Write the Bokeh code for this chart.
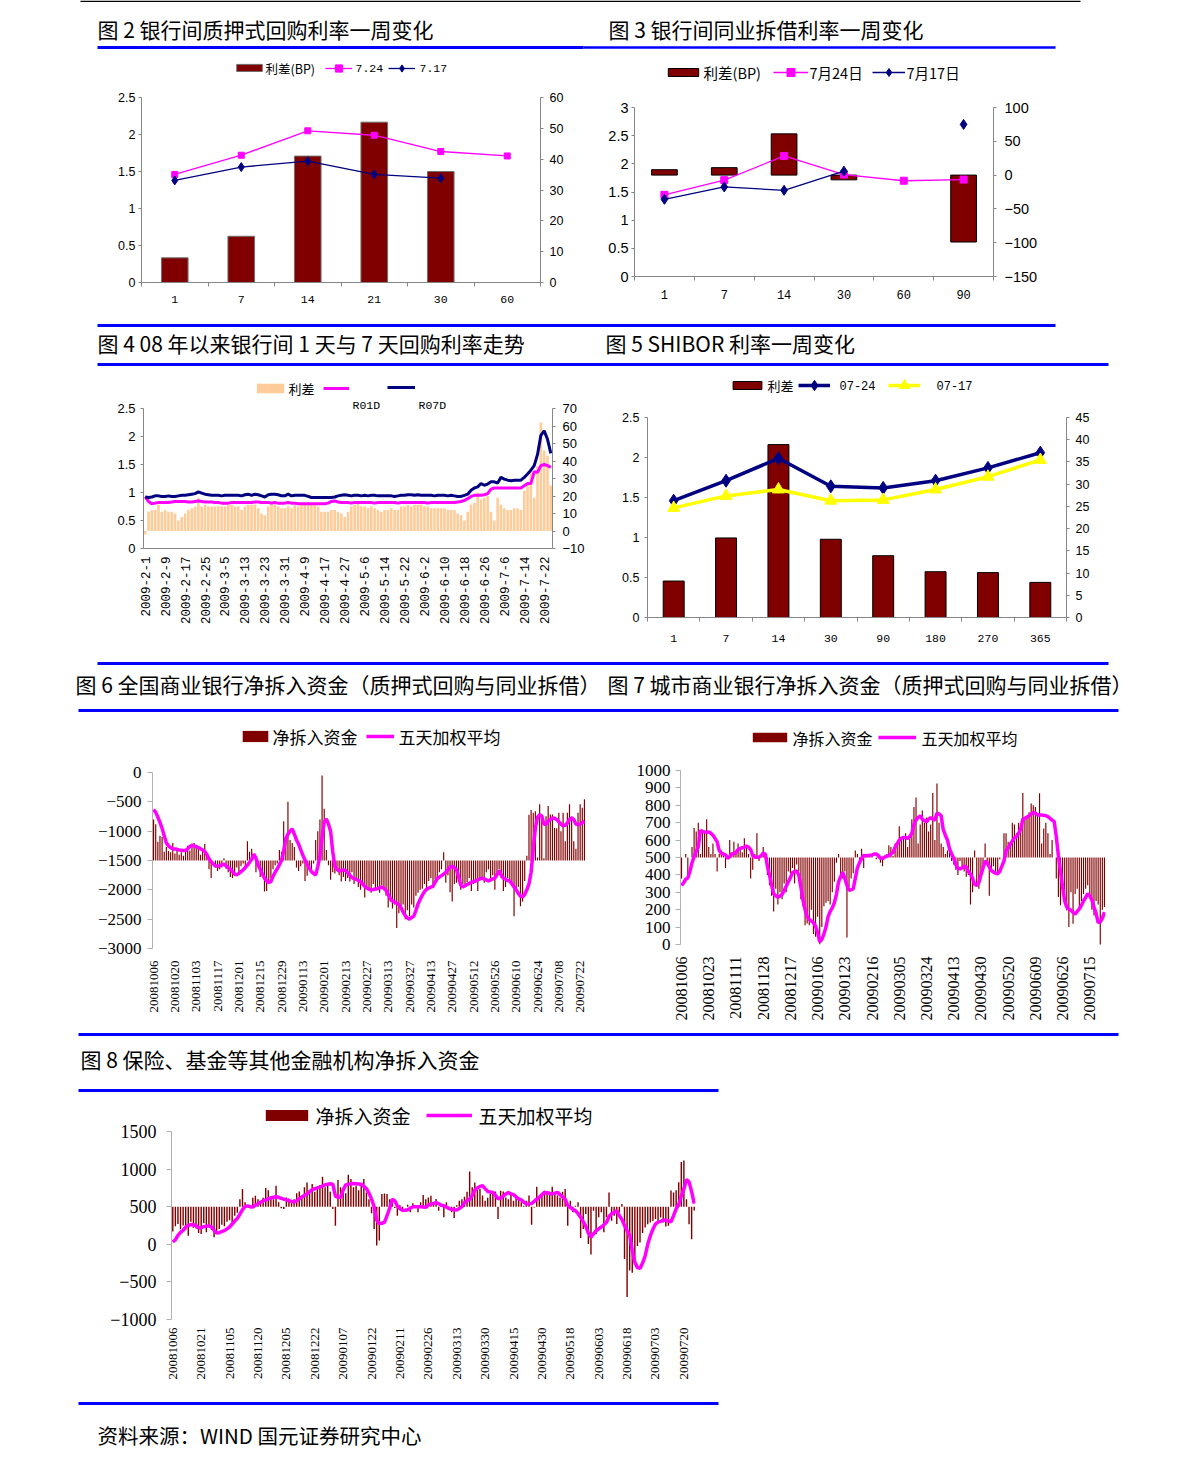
import math
from bokeh.plotting import figure
from bokeh.layouts import column, row
from bokeh.models import (Range1d, LinearAxis, FixedTicker, Legend, LegendItem, Label,
                          Spacer, NumeralTickFormatter)
from bokeh.embed import file_html
from bokeh.resources import INLINE

NAN = float("nan")

# ---------------- data ----------------
# Fig.2 interbank pledged repo, one-week change
repo_terms = ["1", "7", "14", "21", "30", "60"]
repo_0724 = [1.46, 1.72, 2.05, 1.99, 1.77, 1.71]
repo_0717 = [1.38, 1.56, 1.64, 1.46, 1.41, NAN]
repo_spread_bp = [8, 15, 41, 52, 36, NAN]

# Fig.3 interbank lending, one-week change
ibo_terms = ["1", "7", "14", "30", "60", "90"]
ibo_0724 = [1.45, 1.71, 2.14, 1.81, 1.70, 1.72]
ibo_0717 = [1.37, 1.59, 1.53, 1.87, NAN, 2.70]
ibo_spread_bp = [8, 11, 61, -7, NAN, -99]

# Fig.4 R01D / R07D daily since Feb 2009
r_dates = ["2009-2-1", "2009-2-9", "2009-2-17", "2009-2-25", "2009-3-5", "2009-3-13",
           "2009-3-23", "2009-3-31", "2009-4-9", "2009-4-17", "2009-4-27", "2009-5-6",
           "2009-5-14", "2009-5-22", "2009-6-2", "2009-6-10", "2009-6-18", "2009-6-26",
           "2009-7-6", "2009-7-14", "2009-7-22"]
r07d = [0.92, 0.91, 0.92, 0.94, 0.94, 0.93,
        0.93, 0.94, 0.93, 0.93, 0.94, 0.95,
        0.95, 0.96, 0.97, 0.98, 1.01, 0.99,
        0.97, 0.96, 0.95, 0.95, 0.95, 0.94,
        0.95, 0.95, 0.95, 0.95, 0.95, 0.94,
        0.96, 0.97, 0.95, 0.97, 0.96, 0.94,
        0.92, 0.96, 0.97, 0.97, 0.96, 0.94,
        0.94, 0.97, 0.94, 0.95, 0.95, 0.95,
        0.95, 0.93, 0.91, 0.91, 0.91, 0.91,
        0.91, 0.91, 0.91, 0.92, 0.94, 0.95,
        0.96, 0.95, 0.94, 0.95, 0.95, 0.94,
        0.95, 0.94, 0.95, 0.95, 0.94, 0.94,
        0.94, 0.94, 0.94, 0.93, 0.94, 0.95,
        0.95, 0.96, 0.96, 0.95, 0.96, 0.95,
        0.95, 0.95, 0.95, 0.94, 0.95, 0.95,
        0.95, 0.94, 0.95, 0.94, 0.93, 0.93,
        0.95, 0.97, 1.04, 1.08, 1.10, 1.16,
        1.13, 1.15, 1.19, 1.19, 1.17, 1.27,
        1.24, 1.22, 1.21, 1.22, 1.22, 1.22,
        1.27, 1.33, 1.40, 1.48, 1.68, 2.02,
        2.10, 1.95, 1.70]
r01d = [0.92, 0.84, 0.80, 0.81, 0.82, 0.82,
        0.82, 0.82, 0.83, 0.84, 0.84, 0.84,
        0.84, 0.83, 0.83, 0.84, 0.85, 0.84,
        0.83, 0.83, 0.83, 0.82, 0.82, 0.81,
        0.81, 0.81, 0.82, 0.82, 0.82, 0.82,
        0.82, 0.82, 0.82, 0.83, 0.83, 0.82,
        0.82, 0.82, 0.81, 0.82, 0.81, 0.81,
        0.81, 0.82, 0.81, 0.81, 0.80, 0.80,
        0.80, 0.80, 0.80, 0.80, 0.80, 0.80,
        0.80, 0.81, 0.84, 0.85, 0.83, 0.82,
        0.82, 0.82, 0.81, 0.82, 0.82, 0.82,
        0.82, 0.82, 0.82, 0.81, 0.82, 0.82,
        0.82, 0.82, 0.82, 0.82, 0.81, 0.82,
        0.82, 0.82, 0.82, 0.82, 0.82, 0.82,
        0.82, 0.81, 0.82, 0.82, 0.82, 0.82,
        0.82, 0.82, 0.82, 0.82, 0.83, 0.84,
        0.86, 0.89, 0.93, 0.95, 0.95, 0.95,
        0.96, 0.98, 1.06, 1.08, 1.08, 1.08,
        1.08, 1.08, 1.08, 1.08, 1.08, 1.08,
        1.12, 1.16, 1.16, 1.37, 1.36, 1.48,
        1.50, 1.48, 1.45]
r_spread_bp = [-2, 11, 12, 12, 15, 11,
               12, 11, 11, 10, 6, 8,
               10, 12, 13, 14, 19, 14,
               15, 14, 14, 14, 14, 14,
               14, 15, 15, 14, 14, 12,
               14, 15, 15, 15, 13, 10,
               9, 14, 16, 15, 14, 13,
               13, 14, 13, 15, 14, 16,
               16, 16, 16, 15, 14, 11,
               11, 11, 12, 12, 11, 10,
               8, 11, 14, 15, 16, 14,
               14, 13, 14, 13, 12, 11,
               12, 12, 13, 12, 12, 14,
               14, 15, 14, 15, 15, 15,
               14, 14, 13, 13, 13, 13,
               13, 12, 12, 12, 10, 9,
               6, 11, 15, 16, 22, 18,
               19, 20, 11, 6, 19, 15,
               13, 12, 12, 13, 13, 12,
               23, 27, 34, 19, 37, 62,
               46, 43, 26]

# Fig.5 SHIBOR one-week change
shibor_terms = ["1", "7", "14", "30", "90", "180", "270", "365"]
shibor_0724 = [1.46, 1.71, 1.99, 1.64, 1.62, 1.71, 1.87, 2.06]
shibor_0717 = [1.37, 1.52, 1.60, 1.46, 1.47, 1.60, 1.76, 1.97]
shibor_spread_bp = [8.2, 17.9, 38.9, 17.6, 13.9, 10.3, 10.1, 7.9]

# Fig.6 all commercial banks: net borrowing (daily) and 5-day weighted mean
all_dates = ["20081006", "20081020", "20081103", "20081117", "20081201", "20081215",
             "20081229", "20090113", "20090201", "20090213", "20090227", "20090313",
             "20090327", "20090413", "20090427", "20090512", "20090526", "20090610",
             "20090624", "20090708", "20090722"]
all_net = [-800, -880, -1180, -1080, -1100, -1350, -1270, -1340, -1360, -1200,
           -1380, -1300, -1400, -1360, -1420, -1300, -1250, -1330, -1260, -1200,
           -1280, -1300, -1400, -1350, -1220, -1380, -1650, -1800, -1500, -1620,
           -1680, -1650, -1620, -1460, -1640, -1700, -1780, -1800, -1760, -1620,
           -1700, -1600, -1550, -1650, -1170, -1350, -1300, -1500, -1700, -1550,
           -1780, -1700, -2030, -2020, -1900, -1800, -1650, -1580, -1550, -1320,
           -1350, -830, -1100, -500, -1150, -1200, -1270, -1620, -1680, -1600,
           -1550, -1850, -1760, -1600, -1700, -1550, -1150, -1000, -800, -50,
           -620, -1320, -1580, -1830, -1700, -1720, -1680, -1750, -1860, -1780,
           -1850, -1800, -1860, -1700, -1900, -1820, -1950, -2000, -1880, -2130,
           -1950, -2000, -2050, -1900, -2000, -1950, -2050, -1920, -2000, -2100,
           -2300, -2200, -2320, -2250, -2650, -2400, -2300, -2250, -2500, -2350,
           -2450, -2250, -2300, -2100, -2050, -2000, -1980, -1900, -2020, -1850,
           -1800, -1950, -1820, -1780, -1700, -1650, -1360, -1880, -1750, -2040,
           -2200, -1900, -1880, -1850, -2000, -1900, -1950, -1870, -1800, -2020,
           -1900, -1850, -2020, -1800, -1820, -1880, -1700, -1650, -1800, -1750,
           -2000, -1750, -1650, -1800, -2020, -1950, -1800, -1850, -1900, -2450,
           -2000, -1950, -2280, -2200, -1850, -1420, -720, -640, -686, -660,
           -1450, -543, -720, -1460, -744, -572, -715, -715, -944, -950,
           -686, -1000, -686, -1173, -686, -543, -750, -1173, -1300, -686,
           -543, -600, -457]
all_avg5 = [-630, -680, -760, -850, -950, -1080, -1200, -1250, -1280, -1300,
            -1305, -1310, -1320, -1325, -1330, -1330, -1300, -1260, -1240, -1250,
            -1265, -1280, -1300, -1320, -1345, -1400, -1470, -1520, -1560, -1590,
            -1600, -1590, -1575, -1560, -1590, -1620, -1650, -1690, -1730, -1745,
            -1720, -1690, -1660, -1620, -1580, -1530, -1480, -1390, -1460, -1580,
            -1650, -1730, -1800, -1850, -1875, -1860, -1770, -1700, -1640, -1570,
            -1500, -1330, -1130, -1050, -1000, -960, -1050, -1150, -1220, -1320,
            -1410, -1490, -1570, -1630, -1690, -1720, -1750, -1600, -1420, -1100,
            -850, -790, -880, -1000, -1350, -1600, -1650, -1680, -1670, -1660,
            -1670, -1710, -1750, -1790, -1810, -1820, -1840, -1860, -1900, -1940,
            -1970, -1990, -2000, -1995, -1985, -1980, -1965, -1950, -1975, -2010,
            -2080, -2150, -2190, -2210, -2230, -2250, -2300, -2380, -2440, -2480,
            -2500, -2470, -2450, -2350, -2240, -2160, -2090, -2030, -1990, -1970,
            -1955, -1940, -1870, -1810, -1780, -1760, -1730, -1700, -1660, -1610,
            -1600, -1620, -1650, -1780, -1920, -1950, -1930, -1910, -1890, -1870,
            -1860, -1850, -1830, -1815, -1800, -1815, -1830, -1850, -1830, -1815,
            -1800, -1740, -1670, -1750, -1800, -1820, -1840, -1850, -1900, -1950,
            -2000, -2060, -2110, -2120, -2080, -2000, -1900, -1700, -1300, -950,
            -760, -720, -740, -880, -880, -830, -800, -775, -780, -800,
            -840, -880, -910, -900, -860, -800, -775, -800, -880, -890,
            -880, -850, -830]

# Fig.7 city commercial banks
city_dates = ["20081006", "20081023", "20081111", "20081128", "20081217", "20090106",
              "20090123", "20090216", "20090305", "20090324", "20090413", "20090430",
              "20090520", "20090609", "20090626", "20090715"]
city_net = [380, 500, 520, 390, 500, 560, 670, 650, 700, 520,
            660, 650, 720, 560, 520, 580, 520, 420, 520, 540,
            530, 440, 510, 600, 520, 590, 520, 580, 560, 530,
            610, 560, 520, 380, 430, 520, 640, 480, 500, 560,
            520, 400, 340, 280, 190, 320, 230, 300, 260, 350,
            300, 420, 410, 440, 350, 460, 420, 260, 220, 110,
            120, 110, 200, 60, 45, 160, 0, 100, 220, 240,
            250, 230, 300, 360, 470, 520, 390, 380, 420, 40,
            330, 380, 410, 540, 520, 470, 550, 440, 510, 520,
            510, 520, 500, 490, 510, 470, 450, 500, 520, 570,
            560, 510, 580, 570, 680, 600, 610, 640, 560, 620,
            720, 790, 845, 580, 690, 770, 700, 730, 650, 690,
            870, 600, 925, 700, 580, 560, 520, 540, 560, 480,
            460, 430, 400, 480, 450, 420, 390, 400, 230, 300,
            540, 350, 320, 380, 460, 580, 480, 280, 440, 450,
            420, 400, 490, 500, 640, 640, 590, 580, 700, 690,
            640, 700, 690, 870, 720, 740, 760, 810, 800, 790,
            754, 869, 581, 667, 700, 640, 520, 600, 500, 379,
            273, 225, 321, 250, 196, 100, 300, 119, 290, 320,
            215, 250, 290, 320, 340, 290, 200, 167, 250, 230,
            -15, 200, 215]
city_avg5 = [339, 355, 375, 382, 420, 470, 505, 535, 560, 655,
             650, 646, 645, 646, 640, 628, 610, 590, 540, 525,
             520, 515, 495, 505, 521, 521, 530, 545, 552, 556,
             559, 566, 560, 545, 510, 502, 502, 502, 510, 525,
             520, 450, 400, 340, 292, 280, 272, 278, 288, 310,
             335, 360, 385, 412, 420, 422, 400, 330, 255, 200,
             160, 145, 135, 125, 105, 70, 15, 30, 60, 100,
             160, 190, 210, 240, 290, 360, 390, 415, 380, 340,
             312, 315, 320, 380, 440, 470, 495, 511, 510, 511,
             512, 515, 520, 520, 511, 495, 495, 502, 508, 511,
             520, 530, 560, 580, 600, 610, 615, 615, 610, 620,
             640, 690, 715, 730, 740, 720, 712, 705, 720, 730,
             720, 715, 755, 750, 741, 660, 628, 600, 550, 520,
             495, 460, 435, 435, 440, 450, 445, 420, 405, 380,
             345, 340, 355, 400, 440, 480, 470, 445, 425, 416,
             410, 406, 420, 450, 480, 540, 555, 575, 595, 612,
             620, 640, 665, 720, 725, 732, 740, 750, 760, 755,
             745, 744, 744, 742, 740, 735, 725, 715, 706, 620,
             510, 420, 330, 250, 215, 205, 196, 185, 175, 190,
             205, 225, 250, 270, 292, 280, 254, 215, 180, 125,
             130, 150, 186]

# Fig.8 insurers, funds and other institutions
oth_dates = ["20081006", "20081021", "20081105", "20081120", "20081205", "20081222",
             "20090107", "20090122", "20090211", "20090226", "20090313", "20090330",
             "20090415", "20090430", "20090518", "20090603", "20090618", "20090703",
             "20090720"]
oth_net = [170, 240, 270, 200, 250, 190, 115, 300, 220, 210,
           150, 137, 280, 160, 250, 190, 93, 160, 204, 260,
           240, 300, 320, 292, 380, 420, 600, 734, 560, 520,
           480, 620, 646, 600, 560, 620, 748, 720, 640, 600,
           778, 560, 480, 470, 624, 610, 560, 600, 680, 703,
           650, 760, 823, 720, 801, 700, 748, 790, 898, 760,
           801, 700, 469, 248, 854, 760, 721, 680, 924, 867,
           760, 780, 720, 778, 867, 690, 600, 412, 204, -17,
           49, 668, 677, 668, 600, 560, 482, 381, 520, 469,
           500, 527, 425, 545, 491, 425, 560, 655, 600, 624,
           646, 560, 602, 447, 520, 359, 558, 491, 425, 350,
           520, 580, 600, 633, 700, 968, 760, 823, 765, 734,
           650, 580, 620, 668, 690, 703, 336, 712, 703, 624,
           600, 668, 580, 620, 624, 560, 513, 580, 648, 261,
           491, 765, 624, 680, 712, 668, 700, 765, 690, 650,
           624, 700, 734, 248, 580, 425, 513, 560, 85, 204,
           403, 5, -136, 447, 137, 359, 425, 160, 359, 690,
           314, 381, 270, 425, 535, -194, -702, -349, -379, -245,
           -22, 23, 150, 223, 268, 290, 310, 335, 300, 357,
           290, 237, 246, 714, 690, 720, 826, 1093, 1115, 600,
           268, 67, 450]
oth_avg5 = [30, 60, 120, 160, 185, 230, 250, 262, 258, 250,
            215, 220, 235, 240, 247, 230, 185, 150, 155, 170,
            182, 205, 230, 270, 310, 345, 400, 460, 500, 512,
            500, 495, 520, 540, 560, 578, 590, 605, 615, 625,
            632, 625, 610, 600, 590, 582, 570, 560, 580, 605,
            630, 650, 668, 700, 725, 740, 750, 760, 775, 790,
            800, 805, 800, 640, 625, 625, 720, 790, 800, 805,
            809, 806, 803, 800, 770, 740, 680, 600, 500, 320,
            275, 280, 292, 380, 480, 600, 580, 510, 475, 450,
            452, 460, 480, 500, 500, 500, 500, 495, 492, 520,
            535, 545, 555, 540, 520, 512, 495, 475, 465, 460,
            456, 475, 500, 555, 580, 600, 650, 720, 750, 770,
            778, 740, 703, 695, 690, 650, 605, 615, 640, 670,
            690, 670, 660, 630, 605, 590, 560, 535, 538, 542,
            570, 600, 625, 660, 690, 685, 675, 670, 680, 690,
            660, 630, 600, 520, 490, 465, 445, 410, 360, 300,
            240, 150, 95, 140, 180, 205, 230, 260, 290, 370,
            405, 425, 447, 380, 330, 250, 180, 120, -80, -240,
            -310, -320, -250, -155, 0, 112, 200, 270, 295, 305,
            320, 322, 310, 300, 380, 470, 530, 640, 736, 860,
            830, 700, 540]

# ---------------- styling ----------------
CJK = "Noto Sans CJK SC"
SANS = "Liberation Sans"
MONO = "Liberation Mono"
SERIF = "Liberation Serif"
MAROON = "#800000"
MAGENTA = "#FF00FF"
NAVY = "#000080"
YELLOW = "#FFFF00"
PEACH = "#FFCC99"
BLUE = "#0000FF"
GREY = "#868686"
LGREY = "#B0B0B0"
PAGE_W = 1191


class Panel:
    """A chart whose plotting area is placed at fixed page pixels.

    axis_top is where the top axis value sits; the frame reaches up to ext_top so
    that the key above the plot area lives inside the frame."""

    def __init__(self, box, left, axis_top, right, bottom, ext_top):
        self.box = box
        self.fl, self.ft, self.fr, self.fb = left, axis_top, right, bottom
        self.ext = ext_top

    def vrange(self, v0, v1):
        span = (v1 - v0) * (self.fb - self.ext) / (self.fb - self.ft)
        return Range1d(v0, v0 + span)

    def figure(self, x_range, v0, v1):
        bx0, by0, bx1, by1 = self.box
        p = figure(width=bx1 - bx0, height=by1 - by0, x_range=x_range,
                   y_range=self.vrange(v0, v1), output_backend="svg", toolbar_location=None,
                   min_border_left=self.fl - bx0, min_border_right=bx1 - self.fr,
                   min_border_top=self.ext - by0, min_border_bottom=by1 - self.fb)
        p.outline_line_color = None
        p.grid.visible = False
        p.background_fill_color = "white"
        p.border_fill_color = "white"
        return p

    def key(self, p, renderers, x_left, y_center, gw, gh, area=False):
        """Legend glyph only, placed at page coordinates."""
        lx = x_left - (0.1 * gw if area else 0)
        leg = Legend(items=[LegendItem(label=" ", renderers=renderers)],
                     orientation="horizontal",
                     location=(lx - self.fl, self.fb - (y_center + gh / 2)),
                     glyph_width=int(round(gw)), glyph_height=int(round(gh)),
                     label_height=int(round(gh)), label_width=0, label_standoff=0,
                     padding=0, margin=0, spacing=0, border_line_color=None,
                     background_fill_alpha=0, label_text_font_size="1px")
        p.add_layout(leg)

    def text(self, p, text, x, y, font, size):
        p.add_layout(Label(x=x - self.fl, y=self.fb - y, x_units="screen", y_units="screen",
                           text=text, text_font=font, text_font_size=f"{size}px",
                           text_baseline="middle", text_align="left", text_color="black"))


def style_axis(ax, font, size, color=GREY, tick_out=3, standoff=3):
    ax.axis_line_color = color
    ax.major_tick_line_color = color
    ax.major_tick_out = tick_out
    ax.major_tick_in = 0
    ax.minor_tick_line_color = None
    ax.major_label_text_font = font
    ax.major_label_text_font_size = f"{size}px"
    ax.major_label_text_color = "black"
    ax.major_label_standoff = standoff


def category_x_axis(p, names, font, size, standoff):
    centers = [i + 0.5 for i in range(len(names))]
    ax = p.xaxis[0]
    ax.ticker = FixedTicker(ticks=centers, minor_ticks=list(range(len(names) + 1)))
    ax.major_label_overrides = {c: n for c, n in zip(centers, names)}
    style_axis(ax, font, size, tick_out=0, standoff=standoff)
    ax.major_tick_line_color = None
    ax.minor_tick_line_color = GREY
    ax.minor_tick_out = 4
    ax.minor_tick_in = 0
    return centers


def rate_axis(p, top, step, size, standoff):
    ax = p.yaxis[0]
    n = int(round(top / step))
    ax.ticker = FixedTicker(ticks=[round(i * step, 2) for i in range(n + 1)])
    ax.formatter = NumeralTickFormatter(format="0.[0]")
    ax.bounds = (0, top)
    style_axis(ax, SANS, size, standoff=standoff)


def right_axis(p, lo, hi, step, size, standoff):
    ax = LinearAxis(y_range_name="bp", bounds=(lo, hi),
                    ticker=FixedTicker(ticks=list(range(lo, hi + 1, step))))
    style_axis(ax, SANS, size, standoff=standoff)
    p.add_layout(ax, "right")


def date_x_axis(p, labels, step, font, size, standoff):
    ticks = [i * step for i in range(len(labels))]
    ax = p.xaxis[0]
    ax.ticker = FixedTicker(ticks=ticks)
    ax.major_label_overrides = {t: s for t, s in zip(ticks, labels)}
    ax.major_label_orientation = math.pi / 2
    style_axis(ax, font, size, tick_out=0, standoff=standoff)
    ax.major_tick_line_color = None
    return ax


def flow_y_axis(p, lo, hi, step, size, standoff):
    ax = p.yaxis[0]
    ax.ticker = FixedTicker(ticks=list(range(lo, hi + 1, step)))
    ax.bounds = (lo, hi)
    style_axis(ax, SERIF, size, color=LGREY, tick_out=5, standoff=standoff)


def decor(h):
    p = figure(width=PAGE_W, height=h, x_range=Range1d(0, PAGE_W), y_range=Range1d(h, 0),
               x_axis_type=None, y_axis_type=None, output_backend="svg",
               toolbar_location=None, min_border=0)
    p.outline_line_color = None
    p.grid.visible = False
    return p


def rule(p, x0, x1, y, color=BLUE, width=3):
    p.line([x0, x1], [y, y], line_color=color, line_width=width)


def heading(p, x, y, text, size=21, font=CJK):
    p.add_layout(Label(x=x, y=y, text=text, text_font=font, text_font_size=f"{size}px",
                       text_baseline="middle", text_align="left", text_color="black"))


# ---------------- Fig.2 ----------------
A2 = Panel((88, 52, 590, 318), 141, 97, 540, 282, 56)
p2 = A2.figure(Range1d(0, len(repo_terms)), 0, 2.5)
p2.extra_y_ranges = {"bp": A2.vrange(0, 60)}
x2 = category_x_axis(p2, repo_terms, MONO, 11.5, 9)
rate_axis(p2, 2.5, 0.5, 12.5, 3)
right_axis(p2, 0, 60, 10, 12.5, 6)
b2 = p2.vbar(x=x2, top=repo_spread_bp, bottom=0, width=0.4, y_range_name="bp",
             fill_color=MAROON, line_color="#707070", line_width=1)
l2a = p2.line(x2, repo_0724, line_color=MAGENTA, line_width=1.3)
m2a = p2.scatter(x2, repo_0724, marker="square", size=6, color=MAGENTA)
l2b = p2.line(x2, repo_0717, line_color=NAVY, line_width=1.3)
m2b = p2.scatter(x2, repo_0717, marker="diamond", size=9, color=NAVY)
A2.key(p2, [b2], 236, 68, 32.5, 8.75, area=True)
A2.key(p2, [l2a, m2a], 325, 68, 27, 17.5)
A2.key(p2, [l2b, m2b], 388, 68, 27, 17.5)
A2.text(p2, "利差(BP)", 265, 68, CJK, 12.5)
A2.text(p2, "7.24", 355, 68, MONO, 11.5)
A2.text(p2, "7.17", 419, 68, MONO, 11.5)

# ---------------- Fig.3 ----------------
A3 = Panel((590, 52, 1110, 318), 634, 107, 993, 276, 58)
p3 = A3.figure(Range1d(0, len(ibo_terms)), 0, 3)
p3.extra_y_ranges = {"bp": A3.vrange(-150, 100)}
x3 = category_x_axis(p3, ibo_terms, MONO, 12, 9)
rate_axis(p3, 3, 0.5, 14.5, 3)
right_axis(p3, -150, 100, 50, 14.5, 8)
b3 = p3.vbar(x=x3, top=ibo_spread_bp, bottom=0, width=0.43, y_range_name="bp",
             fill_color=MAROON, line_color="black", line_width=1)
l3a = p3.line(x3, ibo_0724, line_color=MAGENTA, line_width=1.3)
m3a = p3.scatter(x3, ibo_0724, marker="square", size=7, color=MAGENTA)
l3b = p3.line(x3, ibo_0717, line_color=NAVY, line_width=1.3)
m3b = p3.scatter(x3, ibo_0717, marker="diamond", size=10, color=NAVY)
A3.key(p3, [b3], 668, 72, 37.5, 10, area=True)
A3.key(p3, [l3a, m3a], 773, 72, 35, 20)
A3.key(p3, [l3b, m3b], 872, 72, 33, 20)
A3.text(p3, "利差(BP)", 703, 72, CJK, 14.5)
A3.text(p3, "7月24日", 809, 72, CJK, 14.5)
A3.text(p3, "7月17日", 906, 72, CJK, 14.5)

# ---------------- Fig.4 ----------------
A4 = Panel((88, 370, 597, 658), 143, 408, 552, 548, 376)
n4 = len(r07d)
p4 = A4.figure(Range1d(-0.5, n4 - 0.5), 0, 2.5)
p4.extra_y_ranges = {"bp": A4.vrange(-10, 70)}
d4 = list(range(n4))
date_x_axis(p4, r_dates, 6, MONO, 12.5, 8)
p4.xaxis[0].axis_line_color = GREY
rate_axis(p4, 2.5, 0.5, 13, 5)
right_axis(p4, -10, 70, 10, 13, 7)
b4 = p4.vbar(x=d4, top=r_spread_bp, bottom=0, width=0.78, y_range_name="bp",
             fill_color=PEACH, line_color=None)
l4a = p4.line(d4, r01d, line_color=MAGENTA, line_width=3)
l4b = p4.line(d4, r07d, line_color=NAVY, line_width=3)
A4.key(p4, [b4], 256, 388, 34.5, 12.5, area=True)
A4.key(p4, [l4a], 323, 388, 26, 14)
A4.key(p4, [l4b], 387, 387, 28, 14)
A4.text(p4, "利差", 288, 388, CJK, 13)
A4.text(p4, "R01D", 352, 405, MONO, 11.5)
A4.text(p4, "R07D", 418, 405, MONO, 11.5)

# ---------------- Fig.5 ----------------
A5 = Panel((597, 370, 1130, 658), 647, 417, 1066, 617, 371)
p5 = A5.figure(Range1d(0, len(shibor_terms)), 0, 2.5)
p5.extra_y_ranges = {"bp": A5.vrange(0, 45)}
x5 = category_x_axis(p5, shibor_terms, MONO, 11.5, 13)
rate_axis(p5, 2.5, 0.5, 12.5, 5)
right_axis(p5, 0, 45, 5, 12.5, 6)
b5 = p5.vbar(x=x5, top=shibor_spread_bp, bottom=0, width=0.4, y_range_name="bp",
             fill_color=MAROON, line_color="black", line_width=1)
l5a = p5.line(x5, shibor_0724, line_color=NAVY, line_width=3.5)
m5a = p5.scatter(x5, shibor_0724, marker="diamond", size=13, color=NAVY)
l5b = p5.line(x5, shibor_0717, line_color=YELLOW, line_width=3.5)
m5b = p5.scatter(x5, shibor_0717, marker="triangle", size=12, color=YELLOW)
A5.key(p5, [b5], 733, 385, 36, 10, area=True)
A5.key(p5, [l5a, m5a], 798, 385, 32, 26)
A5.key(p5, [l5b, m5b], 888, 385, 32, 26)
A5.text(p5, "利差", 767, 385, CJK, 13)
A5.text(p5, "07-24", 839, 385, MONO, 12)
A5.text(p5, "07-17", 936, 385, MONO, 12)

# ---------------- Fig.6 ----------------
A6 = Panel((60, 715, 600, 1030), 152, 772, 585, 948, 724)
n6 = len(all_net)
p6 = A6.figure(Range1d(-0.5, n6 - 0.5), -3000, 0)
d6 = list(range(n6))
ax6 = date_x_axis(p6, all_dates, 10, SERIF, 13, 12)
ax6.axis_line_color = None
flow_y_axis(p6, -3000, 0, 500, 17, 6)
b6 = p6.vbar(x=d6, top=all_net, bottom=-1500, width=0.55, fill_color=MAROON, line_color=None)
l6 = p6.line(d6, all_avg5, line_color=MAGENTA, line_width=3.5)
A6.key(p6, [b6], 242, 736, 32, 13.75, area=True)
A6.key(p6, [l6], 366, 736, 28, 16)
A6.text(p6, "净拆入资金", 272, 736, CJK, 17)
A6.text(p6, "五天加权平均", 398, 736, CJK, 17)

# ---------------- Fig.7 ----------------
A7 = Panel((600, 715, 1140, 1030), 680, 770, 1105, 944, 725)
n7 = len(city_net)
p7 = A7.figure(Range1d(-0.5, n7 - 0.5), 0, 1000)
d7 = list(range(n7))
ax7 = date_x_axis(p7, city_dates, 13, SERIF, 16, 12)
ax7.axis_line_color = None
flow_y_axis(p7, 0, 1000, 100, 17, 5)
b7 = p7.vbar(x=d7, top=city_net, bottom=500, width=0.55, fill_color=MAROON, line_color=None)
l7 = p7.line(d7, city_avg5, line_color=MAGENTA, line_width=3.5)
A7.key(p7, [b7], 752, 737, 43, 12.5, area=True)
A7.key(p7, [l7], 878, 737, 38, 16)
A7.text(p7, "净拆入资金", 792, 737, CJK, 16)
A7.text(p7, "五天加权平均", 921, 737, CJK, 16)

# ---------------- Fig.8 ----------------
A8 = Panel((60, 1095, 740, 1398), 171, 1131, 695, 1319, 1103)
n8 = len(oth_net)
p8 = A8.figure(Range1d(-0.5, n8 - 0.5), -1000, 1500)
d8 = list(range(n8))
ax8 = date_x_axis(p8, oth_dates, 11, SERIF, 13, 8)
ax8.axis_line_color = None
flow_y_axis(p8, -1000, 1500, 500, 18, 10)
b8 = p8.vbar(x=d8, top=oth_net, bottom=500, width=0.55, fill_color=MAROON, line_color=None)
l8 = p8.line(d8, oth_avg5, line_color=MAGENTA, line_width=3.5)
A8.key(p8, [b8], 265, 1115, 53, 13.75, area=True)
A8.key(p8, [l8], 426, 1115, 46, 16)
A8.text(p8, "净拆入资金", 315, 1115, CJK, 19)
A8.text(p8, "五天加权平均", 478, 1115, CJK, 19)

# ---------------- page furniture ----------------
top_band = decor(52)
rule(top_band, 80, 1080, 0.75, color="black", width=1.5)
heading(top_band, 97, 28.5, "图 2 银行间质押式回购利率一周变化")
heading(top_band, 608, 28.5, "图 3 银行间同业拆借利率一周变化")
rule(top_band, 97, 583, 47)
rule(top_band, 583, 1055, 47, width=2.5)

band2 = decor(52)  # page y 318..370
rule(band2, 97, 1055, 7)
heading(band2, 97, 24, "图 4 08 年以来银行间 1 天与 7 天回购利率走势")
heading(band2, 605, 24, "图 5  SHIBOR  利率一周变化")
rule(band2, 97, 1108, 46)

band3 = decor(57)  # page y 658..715
rule(band3, 97, 1108, 5)
heading(band3, 75, 25.5, "图 6 全国商业银行净拆入资金（质押式回购与同业拆借）")
heading(band3, 607, 25.5, "图 7 城市商业银行净拆入资金（质押式回购与同业拆借）")
rule(band3, 78, 1118, 52)

band4 = decor(65)  # page y 1030..1095
rule(band4, 78, 1118, 4)
heading(band4, 80, 28.5, "图 8 保险、基金等其他金融机构净拆入资金")
rule(band4, 78, 718, 60)

band5 = decor(67)  # page y 1398..1465
rule(band5, 78, 718, 5)
heading(band5, 97, 36, "资料来源：WIND 国元证券研究中心", size=20.5)

# each chart sits in its own column so that neighbours do not share borders
page = column(
    top_band,
    row(Spacer(width=88, height=266), column(p2), column(p3)),
    band2,
    row(Spacer(width=88, height=288), column(p4), column(p5)),
    band3,
    row(Spacer(width=60, height=315), column(p6), column(p7)),
    band4,
    row(Spacer(width=60, height=303), column(p8)),
    band5,
)

open("out.html", "w").write(file_html(page, INLINE))
